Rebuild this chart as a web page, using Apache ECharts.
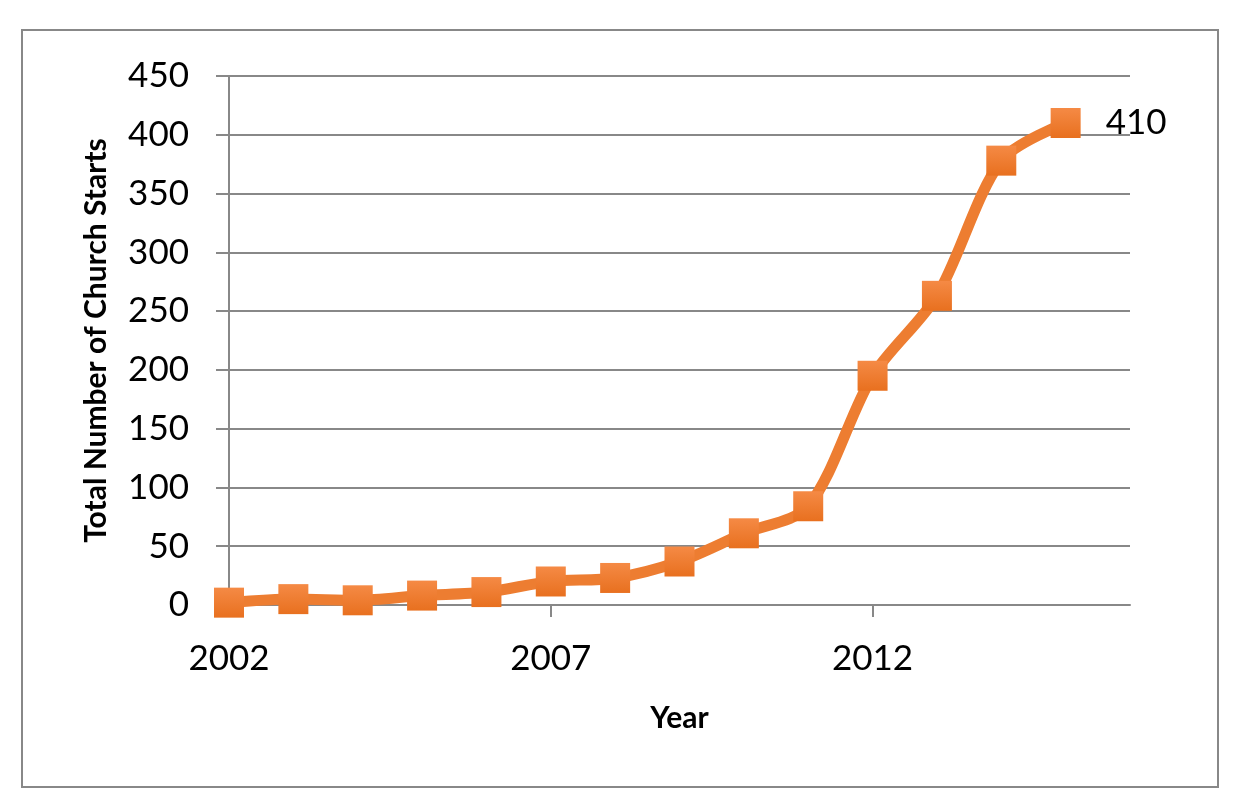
<!DOCTYPE html>
<html>
<head>
<meta charset="utf-8">
<script src="https://cdn.jsdelivr.net/npm/echarts@6/dist/echarts.min.js"></script>
<style>html,body{margin:0;padding:0;background:#fff;}#c{width:1242px;height:790px;}</style>
</head>
<body>
<div id="c"></div>
<script>
const years = [2002,2003,2004,2005,2006,2007,2008,2009,2010,2011,2012,2013,2014,2015];
const churchStarts = [2,5,4,8,11,20,23,37,61,84,195,263,378,410];
const xTicks = [2002,2007,2012];
const yTicks = [0,50,100,150,200,250,300,350,400,450];
const xTitle = 'Year';
const yTitle = 'Total Number of Church Starts';

const font = 'Lato, "Open Sans", sans-serif';
const gray = '#888888';
const chart = echarts.init(document.getElementById('c'));
const lastIdx = years.length - 1;
chart.setOption({
  backgroundColor: '#ffffff',
  animation: false,
  graphic: [{
    type: 'rect', shape: {x: 22, y: 30, width: 1196, height: 757},
    style: {fill: 'none', stroke: gray, lineWidth: 2}, z: -1
  }],
  grid: {left: 229, right: 112, top: 76, bottom: 185},
  xAxis: {
    type: 'value', min: 2002, max: 2016,
    name: xTitle, nameLocation: 'middle', nameGap: 98,
    nameTextStyle: {fontFamily: font, fontWeight: 'bold', fontSize: 30, color: '#000'},
    axisLine: {show: true, onZero: false, lineStyle: {color: gray, width: 2}},
    axisTick: {show: true, length: 12, customValues: xTicks, lineStyle: {color: gray, width: 2}},
    axisLabel: {customValues: xTicks, fontFamily: font, fontSize: 35, color: '#000', margin: 36,
      formatter: v => String(v)},
    splitLine: {show: false}
  },
  yAxis: {
    type: 'value', min: 0, max: 450, interval: 50,
    name: yTitle, nameLocation: 'middle', nameGap: 118, nameRotate: 90,
    nameTextStyle: {fontFamily: font, fontWeight: 'bold', fontSize: 30, color: '#000'},
    axisLine: {show: true, lineStyle: {color: gray, width: 2}},
    axisTick: {show: true, length: 13, lineStyle: {color: gray, width: 2}},
    axisLabel: {fontFamily: font, fontSize: 35, color: '#000', margin: 40,
      customValues: yTicks, formatter: v => String(v)},
    splitLine: {show: true, lineStyle: {color: gray, width: 2}}
  },
  series: [{
    type: 'line',
    data: years.map((y, i) => [y, churchStarts[i]]),
    smooth: 0.3,
    symbol: 'rect',
    symbolSize: 30,
    lineStyle: {color: '#ED7D31', width: 11},
    itemStyle: {
      color: new echarts.graphic.LinearGradient(0, 0, 0, 1, [
        {offset: 0, color: '#F58A45'},
        {offset: 1, color: '#E8701F'}
      ]),
      borderWidth: 0
    },
    label: {
      show: true, position: 'right', distance: 25,
      fontFamily: font, fontSize: 35, color: '#000',
      formatter: p => p.dataIndex === lastIdx ? String(p.value[1]) : ''
    },
    z: 3
  }]
});
</script>
</body>
</html>
